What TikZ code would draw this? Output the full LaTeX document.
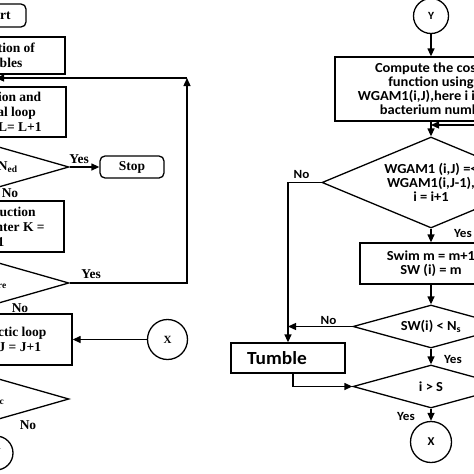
\documentclass[tikz,border=0pt]{standalone}
\usepackage{fontspec}
\setmainfont{Liberation Serif}
\newfontfamily\rfont[FakeStretch=1.05]{Carlito}
\usetikzlibrary{shapes.geometric,arrows.meta}
\begin{document}
\begin{tikzpicture}[x=1pt,y=-1pt,
  every node/.style={inner sep=0pt},
  lf/.style={font=\fontsize{13.5}{15}\selectfont\bfseries},
  rf/.style={font=\rfont\bfseries\fontsize{13.8}{14}\selectfont},
  rl/.style={font=\rfont\bfseries\fontsize{12.5}{14}\selectfont},
  lbox/.style={draw, line width=1.3pt, rectangle, align=center, lf},
  rbox/.style={draw, line width=1.3pt, rectangle, align=center, rf},
  ldia/.style={draw, line width=1.3pt, diamond, lf, shape aspect=3.5, minimum width=146pt, minimum height=42pt},
  rdia/.style={draw, line width=1.3pt, diamond, align=center, rf},
  ring/.style={draw, line width=1.3pt, circle},
  conn/.style={line width=1.3pt},
  arr/.style={conn, -{Triangle[length=8pt,width=7pt]}}]
\useasboundingbox (0,0) rectangle (474,474);
\clip (0,0) rectangle (474,474);
\fill[white] (0,0) rectangle (474,474);

% ---------- left column ----------
\node[lbox, rounded corners=5pt, minimum width=60pt, minimum height=23pt] (start) at (-4,15.5) {Start};
\node[lbox, minimum width=138pt, minimum height=37pt] (init) at (-4,55.5) {Initialization of\hspace*{11pt}\\variables};
\node[lbox, minimum width=140pt, minimum height=50pt] (elim) at (-4,112) {Elimination and\hspace*{3pt}\\dispersal loop\\counter L= L+1};
\node[ldia] (d1) at (-4,167) {L > N\textsubscript{ed}};
\node[lbox, rounded corners=5pt, minimum width=64pt, minimum height=22pt] (stop) at (132,167) {Stop};
\node[lbox, minimum width=136pt, minimum height=51pt] (repro) at (-4,226.5) {Reproduction\\loop counter K =\hspace*{20pt}\\K+1\hspace*{8pt}};
\node[ldia] (d2) at (-4,283) {K > N\textsubscript{re}\hspace*{22pt}};
\node[lbox, minimum width=152pt, minimum height=51pt] (chem) at (-4,339.5) {Chemotactic loop\\counter J = J+1};
\node[ring, minimum size=40pt, font=\fontsize{11}{12}\selectfont\bfseries] (xl) at (167.5,339.5) {X};
\node[ldia] (d3) at (-4,399) {J > N\textsubscript{c}\hspace*{19pt}};
\node[ring, minimum size=34pt, lf] (yl) at (-4,453) {Y};

\coordinate (lc1) at (187,283);
\coordinate (lc2) at (187,78);
\coordinate (lj) at (-4,78);

\draw[arr] (start) -- (init);
\draw[arr] (init) -- (elim);
\draw[arr] (elim) -- (d1);
\draw[arr] (d1) -- (stop);
\draw[arr] (d1) -- (repro);
\draw[arr] (repro) -- (d2);
\draw[arr] (d2.east) -- (lc1) -- (lc2);
\draw[arr] (lc2) -- (lj);
\draw[arr] (d2) -- (chem);
\draw[arr] (xl) -- (chem.east);
\draw[arr] (chem) -- (d3);
\draw[arr] (d3) -- (yl);

\node[lf] (ly1) at (79,159) {Yes};
\node[lf] (ln1) at (10,193) {No};
\node[lf] (ly2) at (91,274) {Yes};
\node[lf] (ln2) at (20,308) {No};
\node[lf] (ln3) at (28,425) {No};

% ---------- right column ----------
\node[ring, minimum size=35pt, font=\rfont\bfseries\fontsize{11}{12}\selectfont] (yr) at (431,16) {Y};
\node[rbox, minimum width=192pt, minimum height=64pt] (comp) at (431,89) {Compute the cost\hspace*{6pt}\\function using\\WGAM1(i,J),here i is the\hspace*{30pt}\\\hspace*{10pt}bacterium number};
\node[rdia, minimum width=218pt, minimum height=91pt, shape aspect=2.4] (d4) at (431,182.5) {WGAM1 (i,J) =<\\WGAM1(i,J-1),\\i = i+1};
\node[rbox, minimum width=142pt, minimum height=41pt] (swim) at (431,263.5) {Swim m = m+1\\SW (i) = m};
\node[rdia, minimum width=156pt, minimum height=43pt, shape aspect=3.7] (d5) at (431,326.5) {SW(i) < N\textsubscript{s}};
\node[rdia, minimum width=156pt, minimum height=43pt, shape aspect=3.7] (d6) at (431,386.5) {i > S};
\node[ring, minimum size=41pt, font=\rfont\bfseries\fontsize{12}{13}\selectfont] (xr) at (431,442) {X};
\node[rbox, minimum width=114pt, minimum height=30pt, font=\rfont\bfseries\fontsize{18.5}{19}\selectfont] (tum) at (288,358) {Tumble\hspace*{22pt}};

\coordinate (rin) at (500,125);
\coordinate (rj) at (431,125);
\coordinate (rc1) at (288,182.5);
\coordinate (rc2) at (288,326.5);

\draw[arr] (yr) -- (comp);
\draw[conn] (comp) -- (rj);
\draw[arr] (rin) -- (rj);
\draw[arr] (rj) -- (d4);
\draw[arr] (d4) -- (swim);
\draw[arr] (swim) -- (d5);
\draw[arr] (d5) -- (d6);
\draw[arr] (d6) -- (xr);
\draw[arr] (d4.west) -- (rc1) -- (tum.north);
\draw[arr] (d5.west) -- (rc2);
\draw[arr] ([xshift=5pt]tum.south) |- (d6.west);

\node[rl] (rn1) at (301.5,174) {No};
\node[rl] (rn2) at (328.5,320) {No};
\node[rl] (ry1) at (463,233) {Yes};
\node[rl] (ry2) at (453,359) {Yes};
\node[rl] (ry3) at (406,416) {Yes};
\end{tikzpicture}
\end{document}
